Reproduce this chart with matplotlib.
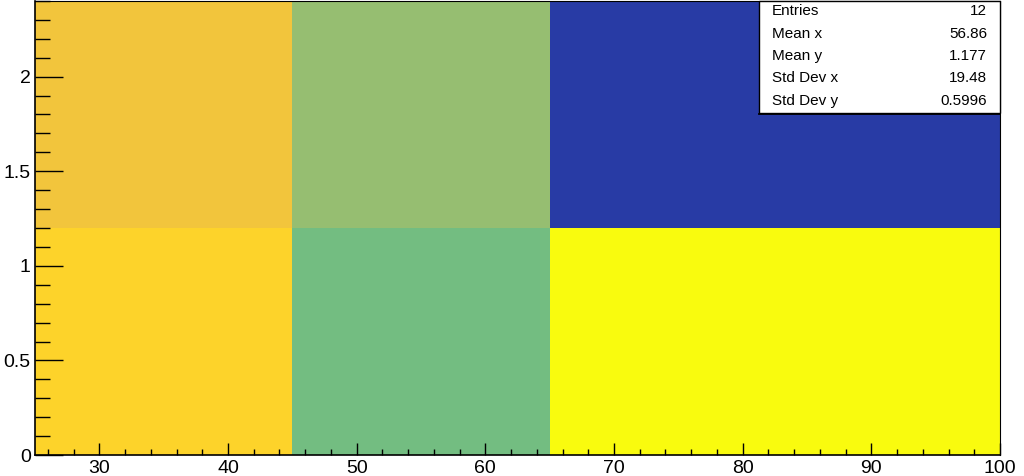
import matplotlib
matplotlib.use("Agg")
import matplotlib.pyplot as plt
import numpy as np
from matplotlib.colors import LinearSegmentedColormap
from matplotlib.ticker import MultipleLocator, FuncFormatter
from matplotlib.patches import Rectangle

plt.rcParams['font.family'] = ['Liberation Sans', 'DejaVu Sans']

# data
x_edges = [25, 45, 65, 100]
y_edges = [0, 1.2, 2.4]
# contents: rows = y bins (bottom, top), cols = x bins
contents = np.array([
    [90.0, 59.6, 100.0],
    [84.0, 65.2, 4.5],
])
stats_labels = ["Entries", "Mean x", "Mean y", "Std Dev x", "Std Dev y"]
stats_values = ["12", "56.86", "1.177", "19.48", "0.5996"]

# ROOT kBird palette
stops = np.linspace(0, 1, 9)
red = [0.2082, 0.0592, 0.0780, 0.0232, 0.1802, 0.5301, 0.8186, 0.9956, 0.9764]
green = [0.1664, 0.3599, 0.5041, 0.6419, 0.7178, 0.7492, 0.7328, 0.7862, 0.9832]
blue = [0.5293, 0.8684, 0.8385, 0.7914, 0.6425, 0.4662, 0.3499, 0.1968, 0.0539]
cmap = LinearSegmentedColormap.from_list(
    "kBird", [(s, (r, g, b)) for s, r, g, b in zip(stops, red, green, blue)])

W, H = 1024, 476
fig = plt.figure(figsize=(W / 100, H / 100), dpi=100)
ax = fig.add_axes([35 / W, (H - 455) / H, (1000 - 35) / W, (455 - 1) / H])

ax.pcolormesh(x_edges, y_edges, contents, cmap=cmap, vmin=0, vmax=100,
              edgecolor='none')
ax.set_xlim(25, 100)
ax.set_ylim(0, 2.4)

ax.xaxis.set_major_locator(MultipleLocator(10))
ax.xaxis.set_minor_locator(MultipleLocator(2))
ax.yaxis.set_major_locator(MultipleLocator(0.5))
ax.yaxis.set_minor_locator(MultipleLocator(0.1))
ax.yaxis.set_major_formatter(FuncFormatter(lambda v, p: f"{v:g}"))

ax.tick_params(axis='x', which='major', direction='in', length=8.6, width=1.0,
               labelsize=14, pad=3.5, top=False)
ax.tick_params(axis='x', which='minor', direction='in', length=4.3, width=1.0, top=False)
ax.tick_params(axis='y', which='major', direction='in', length=20, width=1.0,
               labelsize=14, pad=3, right=False)
ax.tick_params(axis='y', which='minor', direction='in', length=10.8, width=1.0, right=False)

for s in ['left', 'bottom']:
    ax.spines[s].set_linewidth(1.2)
for s in ['top', 'right']:
    ax.spines[s].set_linewidth(0.8)

# stats box
bx0, bx1, by0, by1 = 759, 1000, 1, 113
rect = Rectangle((bx0 / W, 1 - by1 / H), (bx1 - bx0) / W, (by1 - by0) / H,
                 transform=fig.transFigure, facecolor='white', edgecolor='black',
                 linewidth=1.0, zorder=5)
fig.patches.append(rect)
fig.add_artist(plt.Line2D([bx0 / W, bx1 / W], [1 - (by1 + 0.5) / H] * 2,
                          transform=fig.transFigure, color='black', linewidth=1.3, zorder=6))
row_y = [11, 34, 56, 78, 101]
for lab, val, yy in zip(stats_labels, stats_values, row_y):
    fig.text(772 / W, 1 - yy / H, lab, ha='left', va='center', fontsize=11, zorder=7)
    fig.text(987 / W, 1 - yy / H, val, ha='right', va='center', fontsize=11, zorder=7)

fig.savefig("out.png", dpi=100)
